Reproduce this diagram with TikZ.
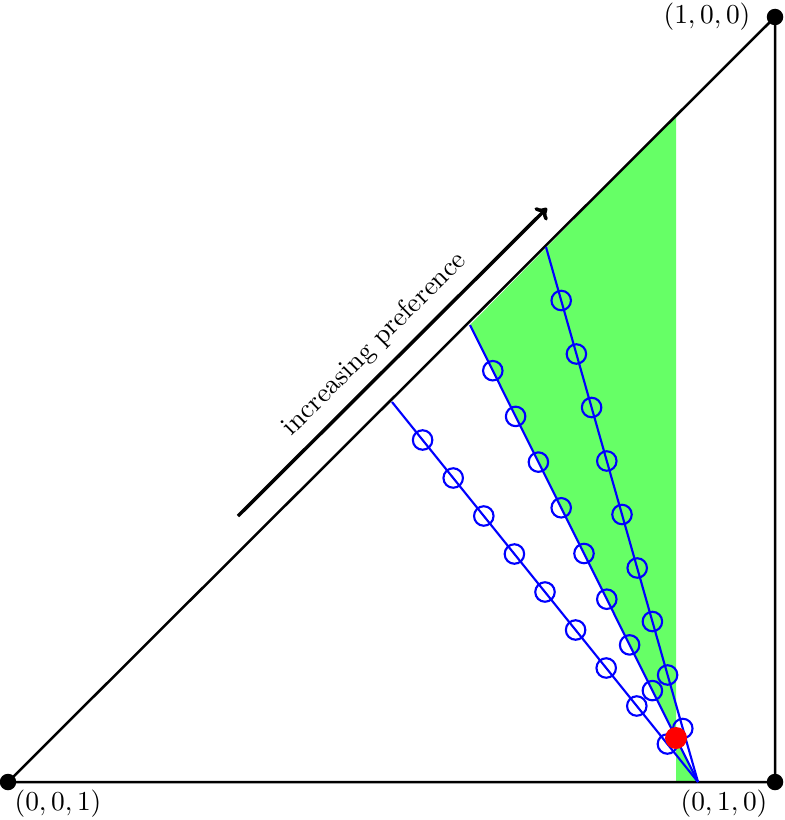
\documentclass[tikz,border=0pt]{standalone}
\usetikzlibrary{calc,arrows.meta}
\definecolor{regiongreen}{RGB}{102,255,102}
\begin{document}
\begin{tikzpicture}[x=0.4pt,y=-0.4pt,
  vdot/.style={circle,fill=black,inner sep=0pt,minimum size=6.6pt},
  ring/.style={circle,draw=blue,line width=0.85pt,inner sep=0pt,minimum size=7.8pt},
  reddot/.style={circle,fill=red,inner sep=0pt,minimum size=8.8pt},
  edge/.style={line width=1pt,black},
  ray/.style={line width=0.85pt,blue},
  lbl/.style={font=\fontsize{10.9}{13}\selectfont}]
\useasboundingbox (0,0) rectangle (785,820);
% vertices
\coordinate (A) at (8,782);
\coordinate (B) at (775,782);
\coordinate (C) at (775,17);
\coordinate (P) at (698,782);
\coordinate (T1) at (392,402);
\coordinate (T2) at (470,325);
\coordinate (T3) at (546,247);
\coordinate (G1) at (676,116);
\coordinate (G2) at (676,782);
% green region
\fill[regiongreen] (T2) -- (G1) -- (G2) -- (P) -- cycle;
% triangle
\draw[edge] (A) -- (B) -- (C) -- cycle;
% rays
\draw[ray] (T1) -- (P);
\draw[ray] (T2) -- (P);
\draw[ray] (T3) -- (P);
% rings
\foreach \k in {1,...,9}{
  \node[ring] (ra\k) at ($(T1)!{\k/10}!(P)$) {};
  \node[ring] (rc\k) at ($(T3)!{\k/10}!(P)$) {};
}
\foreach \k in {1,...,8}{
  \node[ring] (rb\k) at ($(T2)!{\k/10}!(P)$) {};
}
% red point
\node[reddot] (R) at (676,738) {};
% vertex dots
\node[vdot] (vA) at (A) {};
\node[vdot] (vB) at (B) {};
\node[vdot] (vC) at (C) {};
% labels
\node[lbl] (lA) at (58,804) {$(0,0,1)$};
\node[lbl] (lB) at (724,804) {$(0,1,0)$};
\node[lbl] (lC) at (707,17) {$(1,0,0)$};
% arrow
\coordinate (S1) at (238,516);
\coordinate (S2) at (547,208);
\draw[line width=1.4pt,-{To[length=4pt,width=7pt]}] (S1) -- node[lbl,sloped,above,pos=0.5,yshift=1pt] (arrowlbl) {increasing preference} (S2);
\end{tikzpicture}
\end{document}
